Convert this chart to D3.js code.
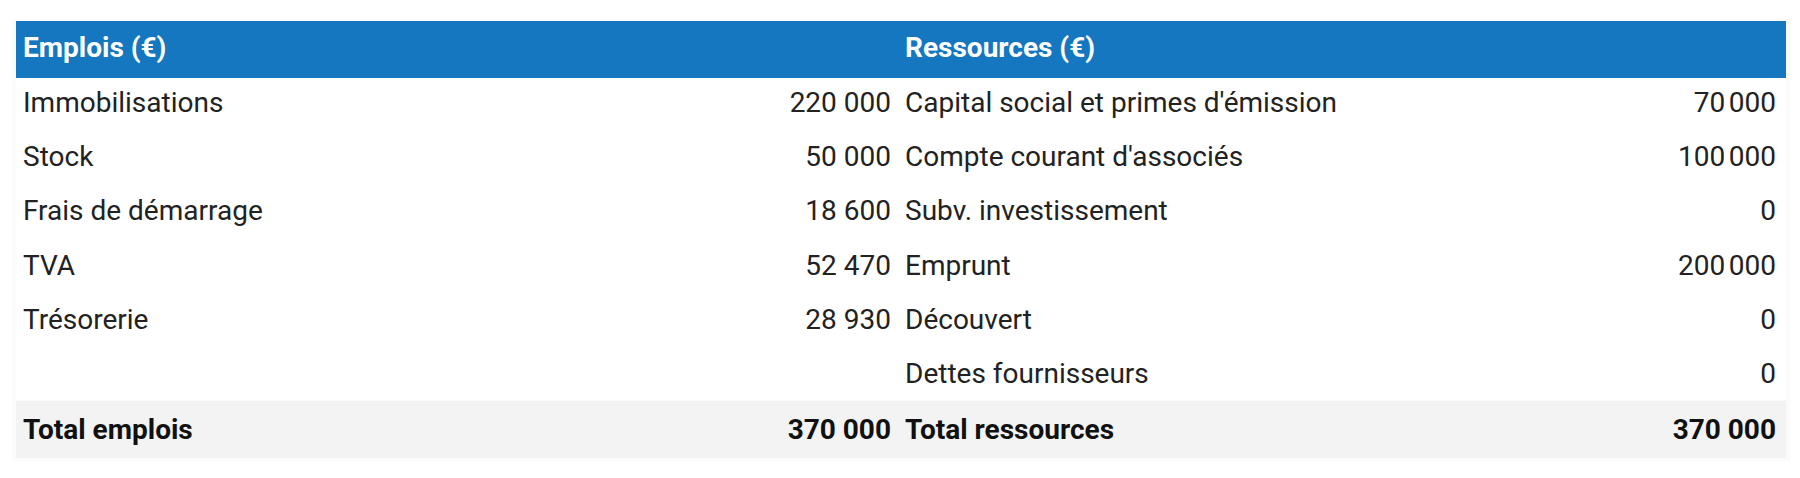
<!DOCTYPE html>
<html><head><meta charset="utf-8">
<script src="https://cdn.jsdelivr.net/npm/d3@7"></script>
<style>body{margin:0;background:#fff}svg{display:block}</style>
</head><body>
<svg id="c" width="1800" height="478"></svg>
<script>
const emploisLabels = ["Immobilisations","Stock","Frais de démarrage","TVA","Trésorerie"];
const emploisValues = [220000,50000,18600,52470,28930];
const ressourcesLabels = ["Capital social et primes d'émission","Compte courant d'associés","Subv. investissement","Emprunt","Découvert","Dettes fournisseurs"];
const ressourcesValues = [70000,100000,0,200000,0,0];
const headers = ["Emplois (€)","Ressources (€)"];
const totalLabels = ["Total emplois","Total ressources"];

const fmtL = v => d3.format(",")(v).replace(/,/g, " ");
const fmtR = v => d3.format(",")(v).replace(/,/g, "\u202F");
const svg = d3.select("#c");
const font = "Roboto, 'Noto Sans', sans-serif";
const nRows = 8;
const y = d3.scaleBand().domain(d3.range(nRows)).range([21, 455]).paddingInner(0);
const x = d3.scaleLinear().domain([0,1]).range([16, 1786]);
const colSplit = 900;

svg.append("rect").attr("x",12).attr("y",19).attr("width",1778).attr("height",442).attr("fill","#fbfbfb");
svg.append("rect").attr("x",x(0)).attr("y",y(0)).attr("width",x(1)-x(0)).attr("height",57).attr("fill","#1477c0");
svg.append("rect").attr("x",x(0)).attr("y",y(0)+57).attr("width",x(1)-x(0)).attr("height",y(7)-y(0)-57).attr("fill","#fff");
svg.append("rect").attr("x",x(0)).attr("y",y(7)).attr("width",x(1)-x(0)).attr("height",y.bandwidth()+3).attr("fill","#f3f3f3");

const cy = i => y(i) + y.bandwidth()/2;
const txt = (tx, ty, s, anchor, weight, color) => svg.append("text").attr("x",tx).attr("y",ty)
  .attr("dominant-baseline","central").attr("text-anchor",anchor).attr("font-family",font)
  .attr("font-size",28).attr("font-weight",weight).attr("fill",color).text(s);

txt(23, cy(0)-1, headers[0], "start", 700, "#fff");
txt(colSplit+5, cy(0)-1, headers[1], "start", 700, "#fff");
emploisLabels.forEach((l,i)=>{ txt(23, cy(i+1), l, "start", 400, "#222"); txt(891, cy(i+1), fmtL(emploisValues[i]), "end", 400, "#222"); });
ressourcesLabels.forEach((l,i)=>{ txt(colSplit+5, cy(i+1), l, "start", 400, "#222"); txt(1776, cy(i+1), fmtR(ressourcesValues[i]), "end", 400, "#222"); });
const te = d3.sum(emploisValues), tr = d3.sum(ressourcesValues);
txt(23, cy(7)+2, totalLabels[0], "start", 700, "#111");
txt(891, cy(7)+2, fmtL(te), "end", 700, "#111");
txt(colSplit+5, cy(7)+2, totalLabels[1], "start", 700, "#111");
txt(1776, cy(7)+2, fmtL(tr), "end", 700, "#111");
</script>
</body></html>
